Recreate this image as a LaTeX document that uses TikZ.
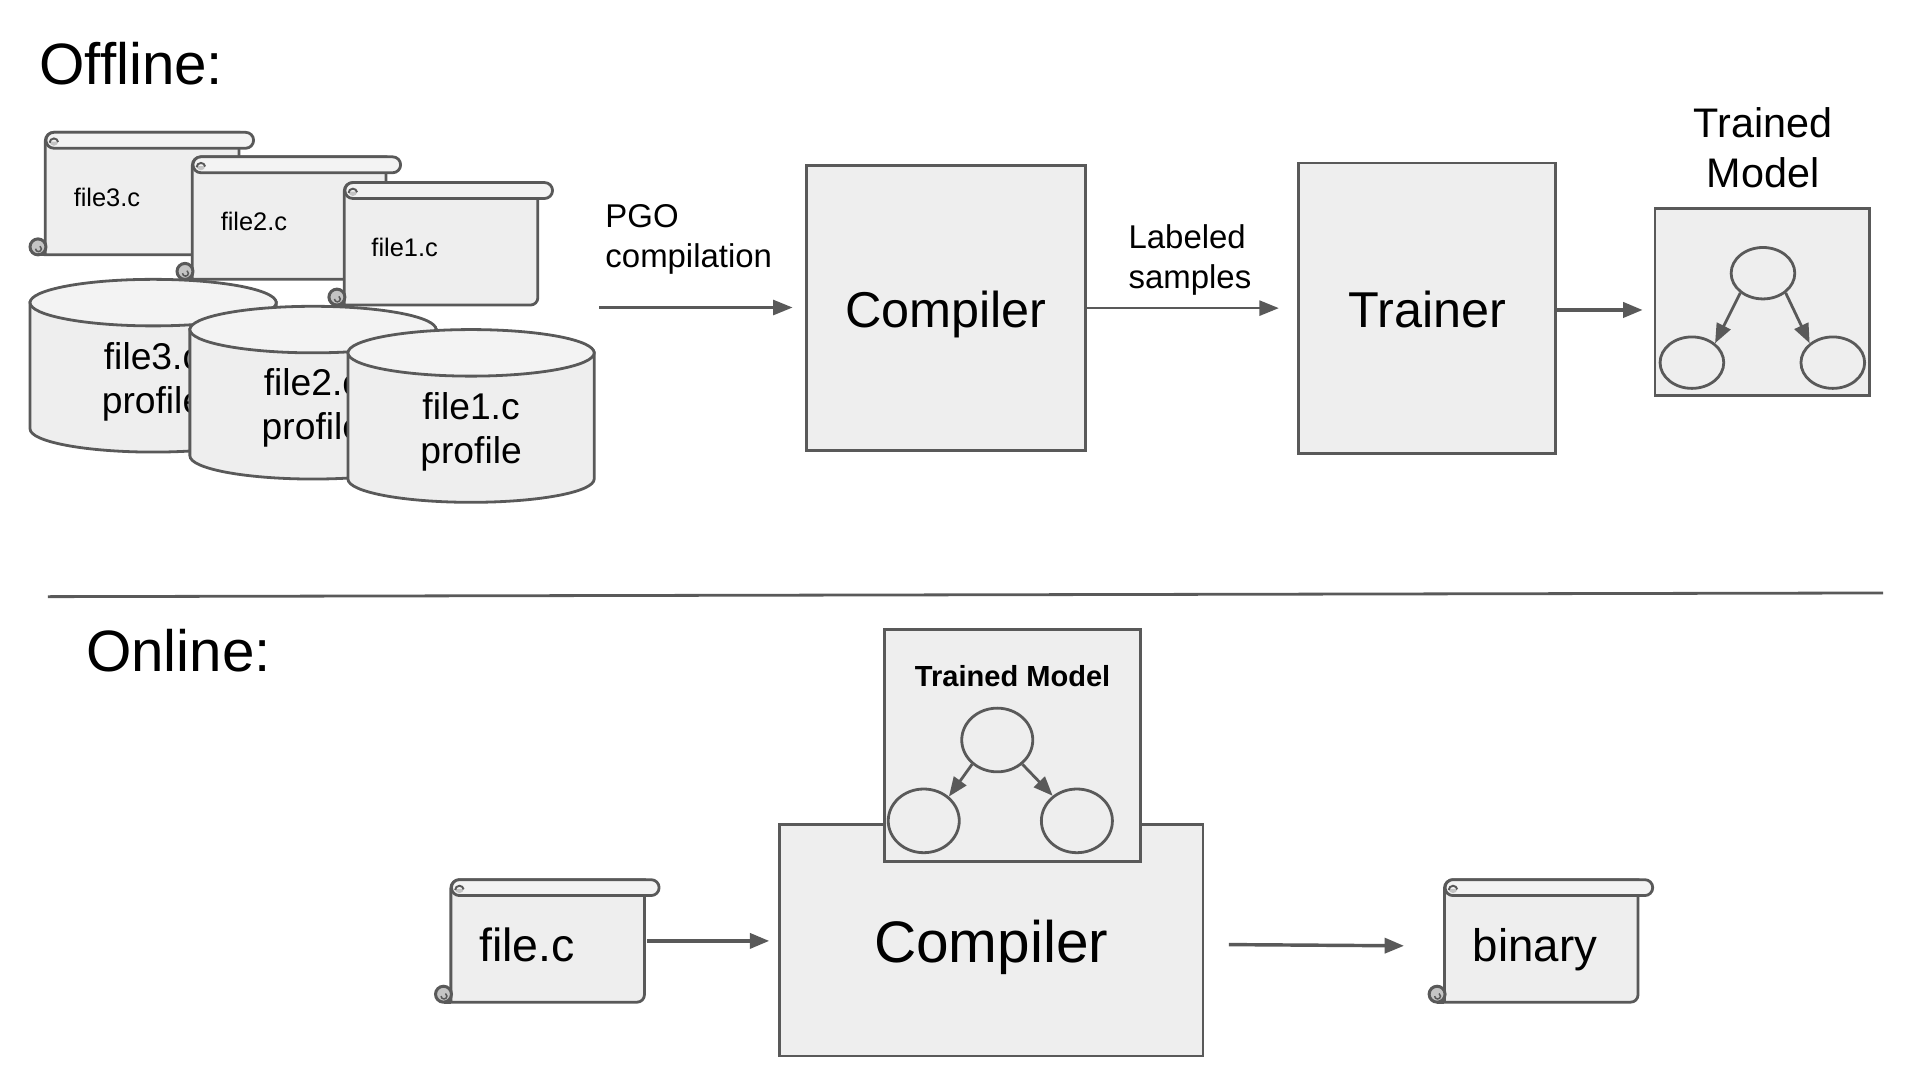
\documentclass[tikz,border=0pt]{standalone}
\usepackage{fontspec}
\setmainfont{Liberation Sans}
\usetikzlibrary{shapes.geometric, arrows.meta}
\definecolor{edgegray}{HTML}{595959}
\definecolor{boxgray}{HTML}{EEEEEE}
\definecolor{topgray}{HTML}{F3F3F3}
\definecolor{curlgray}{HTML}{C4C4C4}
\newcommand{\fsize}[1]{\fontsize{#1}{#1}\selectfont}
\tikzstyle{bigbox} = [rectangle, draw=edgegray, fill=boxgray, line width=1.3pt, inner sep=0pt, text=black]
\tikzstyle{circ} = [ellipse, draw=edgegray, fill=boxgray, line width=1.3pt, inner sep=0pt]
\tikzstyle{dbtext} = [align=center, font=\fontsize{17.3}{20.4}\selectfont]
\tikzstyle{arrow} = [line width=1.1pt, draw=edgegray, -{Triangle[length=9pt,width=7pt]}]
\tikzstyle{thickarrow} = [line width=1.6pt, draw=edgegray, -{Triangle[length=9pt,width=7pt]}]
\tikzstyle{tinyarrow} = [line width=1.3pt, draw=edgegray, -{Triangle[length=9pt,width=7pt]}]
\tikzstyle{title} = [anchor=west, font=\fontsize{27.1}{32}\selectfont]
\tikzstyle{lbl} = [anchor=west, align=left, font=\fontsize{15.3}{18.8}\selectfont]
\tikzset{
  scrollpic/.pic={
    \draw[draw=edgegray, fill=boxgray, line width=1.3pt] (0,7) arc[start angle=180,end angle=270,radius=7] -- (158,0) -- (158,94) arc[start angle=0,end angle=90,radius=6] -- (0,100) -- cycle;
    \draw[draw=edgegray, fill=curlgray, line width=1.4pt] (-6,93.5) circle[radius=6.5];
    \draw[draw=edgegray, line width=0.7pt] (-8,95) arc[start angle=180,end angle=-60,radius=2.4];
    \draw[draw=edgegray, line width=1.3pt] (-6,100) -- (0,100);
    \draw[draw=edgegray, fill=topgray, line width=1.3pt, line join=round] (7,0) -- (163.5,0) arc[start angle=-90,end angle=90,radius=6.5] -- (7,13) arc[start angle=90,end angle=270,radius=6.5];
    \fill[curlgray] (3.5,7.5) arc[start angle=180,end angle=0,radius=3.5] -- cycle;
    \draw[draw=edgegray, line width=0.9pt] (3.5,8.5) arc[start angle=180,end angle=350,radius=3.5];
  },
  dbpic/.pic={
    \draw[draw=edgegray, fill=boxgray, line width=1.3pt] (-100.5,19) -- (-100.5,122) arc[start angle=180,end angle=0,x radius=100.5,y radius=19] -- (100.5,19) -- cycle;
    \draw[draw=edgegray, fill=topgray, line width=1.3pt] (0,19) ellipse [x radius=100.5,y radius=19];
  }
}

\begin{document}
\begin{tikzpicture}[x=0.02cm, y=-0.02cm, node distance=7.86cm]
    \useasboundingbox (0,0) rectangle (1568,887);

    \node (offline) [title] at (26,52) {Offline:};
    \node (online) [title] at (64,531) {Online:};

    \pic at (37,108) {scrollpic};
    \node (file3) [anchor=west, font=\fsize{11.8}] at (54,161) {file3.c};
    \pic at (157,128) {scrollpic};
    \node (file2) [anchor=west, font=\fsize{11.8}] at (174,181) {file2.c};
    \pic at (281,149) {scrollpic};
    \node (file1) [anchor=west, font=\fsize{11.8}] at (297,202) {file1.c};

    \pic at (125,228) {dbpic};
    \node (prof3) [dbtext] at (124.5,311.5) {file3.c\\profile};
    \pic at (255.5,250) {dbpic};
    \node (prof2) [dbtext] at (255,333) {file2.c\\profile};
    \pic at (384.5,269) {dbpic};
    \node (prof1) [dbtext] at (384.5,352.5) {file1.c\\profile};

    \node (compiler) [bigbox, minimum width=4.56cm, minimum height=4.66cm, font=\fsize{23.4}, text height=17.6pt, text depth=0pt] at (772,251.5) {Compiler};
    \node (trainer) [bigbox, right of=compiler, minimum width=4.2cm, minimum height=4.74cm, font=\fsize{23.4}, text height=17.6pt, text depth=0pt] {Trainer};
    \node (model) [bigbox, right of=trainer, xshift=-2.39cm, yshift=0.1cm, minimum width=3.5cm, minimum height=3.06cm] {};
    \node (modeltxt) [align=center, font=\fontsize{19.2}{23.2}\selectfont] at (1439,120.5) {Trained\\Model};
    \node (mroot) [circ, minimum width=1.04cm, minimum height=0.84cm] at (1439,223) {};
    \node (mleft) [circ, minimum width=1.04cm, minimum height=0.84cm] at (1381,296) {};
    \node (mright) [circ, minimum width=1.04cm, minimum height=0.84cm] at (1496,296) {};

    \coordinate (pgostart) at (489,251);
    \coordinate (trainout) at (1271,253);
    \node (pgo) [lbl] at (488,195.5) {PGO\\compilation};
    \node (samples) [lbl] at (915,212) {Labeled\\samples};

    \draw[arrow, shorten >=0.2cm] (pgostart) -- (pgostart -| compiler.west);
    \draw[arrow, shorten >=0.3cm] (compiler) -- (trainer);
    \draw[thickarrow, shorten >=0.18cm] (trainout) -- (trainout -| model.west);
    \draw[tinyarrow] (mroot.221) -- (mleft.40);
    \draw[tinyarrow] (mroot.319) -- (mright.140);

    \coordinate (rulea) at (39,487);
    \coordinate (ruleb) at (1537,484);
    \draw[draw=edgegray, line width=1.3pt] (rulea) -- (ruleb);

    \pic at (368,718) {scrollpic};
    \node (filec) [anchor=west, font=\fsize{21.6}] at (385,771) {file.c};
    \pic at (1179,718) {scrollpic};
    \node (binary) [anchor=west, font=\fsize{21.2}] at (1196,775) {binary};

    \node (compiler2) [bigbox, minimum width=6.92cm, minimum height=3.78cm, font=\fsize{27.2}, text height=21pt, text depth=0pt] at (809,767.5) {Compiler};
    \node (model2) [bigbox, minimum width=4.18cm, minimum height=3.78cm] at (826.5,608.5) {};
    \node (model2txt) [font=\bfseries\fsize{13.5}] at (826.5,552) {Trained Model};
    \node (nroot) [circ, minimum width=1.16cm, minimum height=1.04cm] at (814,604) {};
    \node (nleft) [circ, minimum width=1.16cm, minimum height=1.04cm] at (754,670) {};
    \node (nright) [circ, minimum width=1.16cm, minimum height=1.04cm] at (879,670) {};
    \draw[tinyarrow] (nroot.224) -- (nleft.44);
    \draw[tinyarrow] (nroot.316) -- (nright.134);

    \coordinate (fileout) at (528,768);
    \coordinate (compout) at (1003,771);
    \coordinate (binin) at (1146,772);
    \draw[thickarrow, shorten >=0.14cm] (fileout) -- (fileout -| compiler2.west);
    \draw[thickarrow] (compout) -- (binin);
\end{tikzpicture}
\end{document}
